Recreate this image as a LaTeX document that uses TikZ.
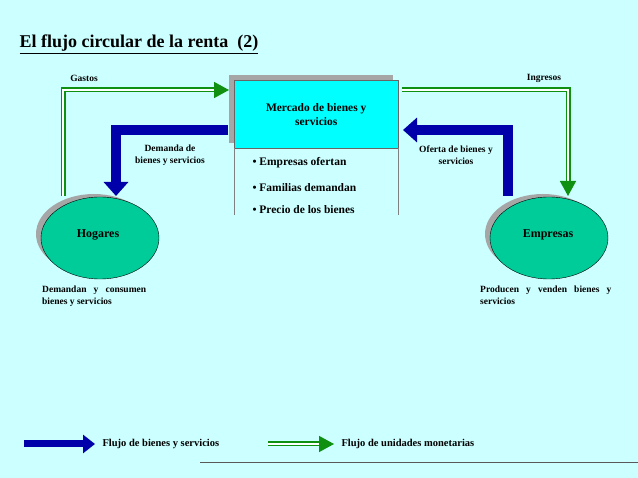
\documentclass[tikz,border=0pt]{standalone}
\usepackage{fontspec}
\setmainfont{Liberation Serif}
\usetikzlibrary{arrows.meta,shapes.geometric}
\definecolor{bg}{HTML}{CCFFFF}
\definecolor{mk}{HTML}{00FFFF}
\definecolor{ov}{HTML}{00CC99}
\definecolor{gr}{HTML}{109010}
\definecolor{bl}{HTML}{0000AA}
\tikzset{
 money/.style={draw=gr,double=white,double distance=2pt,line width=1.5pt,-{Triangle[length=15pt,width=16pt,fill=gr,color=gr]}},
 goods/.style={draw=bl,line width=10pt,-{Triangle[length=14pt,width=24pt]}},
 lbl/.style={font=\bfseries\fontsize{9.5}{11.5}\selectfont,align=center},
 big/.style={font=\bfseries\fontsize{11.5}{14}\selectfont},
 oval/.style={ellipse,draw=black,fill=ov,minimum width=118pt,minimum height=82pt}
}
\begin{document}
\begin{tikzpicture}[x=1pt,y=-1pt]
\fill[bg] (0,0) rectangle (638,478);
\useasboundingbox (0,0) rectangle (638,478);
\node[anchor=base west,font=\bfseries\fontsize{18}{21}\selectfont] (title) at (16,48) {\underline{El flujo circular de la renta\ \ (2)}};
% market
\fill[gray!70] (229,75) rectangle (393,143);
\node[draw=black!60,fill=mk,minimum width=164pt,minimum height=68pt,inner sep=0pt,anchor=north west,align=center,big] (mkt) at (234,80) {Mercado de bienes y\\servicios};
\draw[gray,line width=1pt] (mkt.south west) -- ++(0,67) coordinate (mL);
\draw[gray,line width=1pt] (mkt.south east) -- ++(0,67) coordinate (mR);
\node[anchor=west,big] (b1) at (249,163) {• Empresas ofertan};
\node[anchor=west,big] (b2) at (249,188) {• Familias demandan};
\node[anchor=west,big] (b3) at (249,210) {• Precio de los bienes};
% ovals
\fill[gray!70] (94,234) ellipse (58 and 40);
\node[oval] (hog) at (100,238) {};
\node[big,font=\bfseries\fontsize{12}{14}\selectfont] (hogt) at (98,235) {Hogares};
\fill[gray!70] (543,234) ellipse (58 and 40);
\node[oval] (emp) at (549,238) {};
\node[big,font=\bfseries\fontsize{12}{14}\selectfont] (empt) at (548,235) {Empresas};
% arrows
\coordinate (g1) at (63,196); \coordinate (g2) at (229,90);
\draw[money] (g1) |- (g2);
\coordinate (g3) at (402,90); \coordinate (g4) at (568,196);
\draw[money] (g3) -| (g4);
\coordinate (d1) at (228,130); \coordinate (d2) at (116,196);
\draw[goods] (d1) -| (d2);
\coordinate (o1) at (508,196); \coordinate (o2) at (403,130);
\draw[goods] (o1) |- (o2);
% labels
\node[lbl] (gastos) at (84,78) {Gastos};
\node[lbl] (ingresos) at (544,78) {Ingresos};
\node[lbl] (dem) at (170,155) {Demanda de\\bienes y servicios};
\node[lbl] (of) at (456,155) {Oferta de bienes y\\servicios};
\node[lbl,align=left,anchor=north west,inner sep=0pt] (hd) at (42,286) {Demandan\ \ \ y\ \ \ consumen\\bienes y servicios};
\node[lbl,align=left,anchor=north west,inner sep=0pt] (ed) at (480,286) {Producen\ \ \ y\ \ \ venden\ \ \ bienes\ \ \ y\\servicios};
% legend
\coordinate (l1) at (24,444); \coordinate (l2) at (95,444);
\draw[goods,line width=7pt,-{Triangle[length=12pt,width=18pt]}] (l1) -- (l2);
\node[anchor=west,big,font=\bfseries\fontsize{10.5}{12}\selectfont] (lt1) at (99,444) {Flujo de bienes y servicios};
\coordinate (l3) at (268,444); \coordinate (l4) at (334,444);
\draw[money] (l3) -- (l4);
\node[anchor=west,big,font=\bfseries\fontsize{10.5}{12}\selectfont] (lt2) at (338,444) {Flujo de unidades monetarias};
\draw[gray!70!black] (200,462) -- (638,462);
\end{tikzpicture}
\end{document}
